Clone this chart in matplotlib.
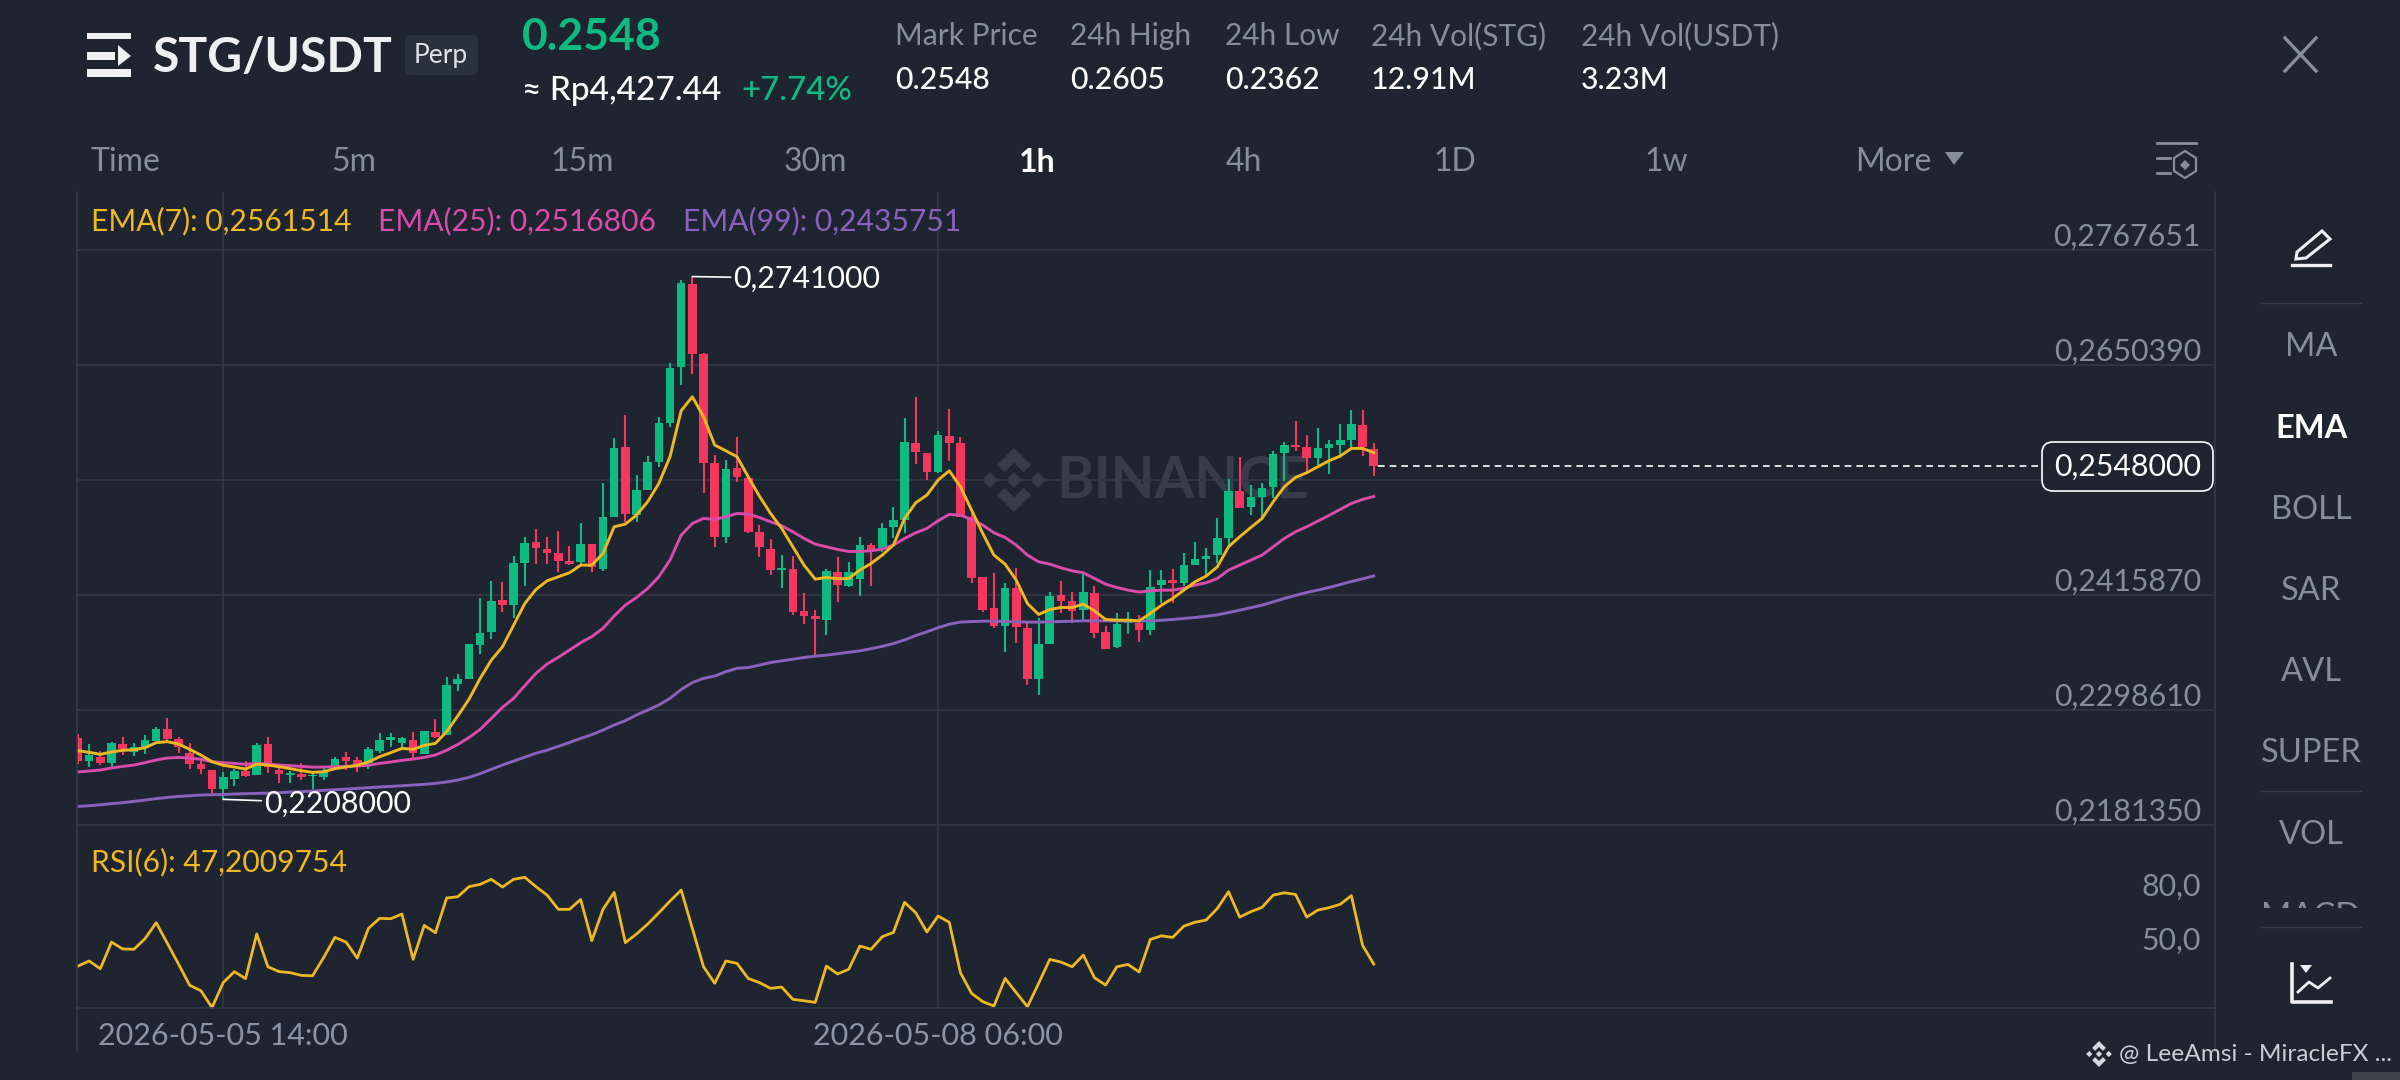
import matplotlib
matplotlib.use('Agg')
import matplotlib.pyplot as plt
from matplotlib.patches import Polygon, Rectangle, FancyBboxPatch

plt.rcParams['font.family'] = ['Lato', 'DejaVu Sans']

# prices are in 1/10000 USDT, one candle per hour
opens = [2270.2, 2247.4, 2251.5, 2245.4, 2264.4, 2256.6, 2260.0, 2267.1, 2279.4, 2269.9,
         2254.9, 2244.0, 2237.9, 2218.2, 2229.0, 2237.2, 2232.8, 2264.4, 2237.9, 2233.1,
         2233.8, 2231.8, 2230.4, 2242.0, 2251.5, 2248.1, 2244.7, 2257.6, 2268.5, 2265.1,
         2268.5, 2254.2, 2277.0, 2273.6, 2325.6, 2330.4, 2365.2, 2378.8, 2411.1, 2406.0,
         2449.2, 2470.2, 2463.5, 2458.7, 2451.2, 2450.2, 2468.2, 2442.4, 2496.1, 2567.5,
         2497.8, 2523.3, 2552.2, 2591.3, 2648.4, 2733.4, 2662.0, 2550.5, 2475.7, 2545.4,
         2535.2, 2480.8, 2463.5, 2441.7, 2442.4, 2400.2, 2394.8, 2390.7, 2439.7, 2425.4,
         2432.2, 2466.9, 2463.8, 2485.9, 2492.7, 2571.6, 2560.7, 2541.7, 2578.4, 2571.6,
         2496.1, 2434.2, 2402.9, 2384.6, 2423.0, 2383.2, 2330.9, 2366.2, 2415.9, 2410.4,
         2400.9, 2418.6, 2378.8, 2363.5, 2388.0, 2388.0, 2380.5, 2426.1, 2431.5, 2428.8,
         2446.5, 2453.3, 2456.7, 2474.3, 2522.3, 2506.3, 2515.8, 2526.0, 2560.7, 2569.2,
         2566.8, 2555.6, 2565.8, 2569.5, 2574.3, 2589.6, 2565.5]
highs = [2274.6, 2264.4, 2257.6, 2266.8, 2271.2, 2265.8, 2273.3, 2281.4, 2290.6, 2271.9,
         2265.1, 2249.8, 2237.9, 2235.9, 2238.6, 2247.4, 2265.1, 2271.9, 2241.3, 2237.2,
         2245.4, 2237.2, 2239.6, 2251.5, 2256.6, 2250.8, 2261.0, 2275.3, 2275.3, 2271.2,
         2276.7, 2278.0, 2289.6, 2332.4, 2335.8, 2366.4, 2413.1, 2430.8, 2429.8, 2456.0,
         2475.0, 2483.2, 2475.7, 2481.8, 2466.2, 2489.3, 2468.2, 2530.1, 2576.0, 2599.8,
         2538.6, 2558.3, 2597.4, 2652.5, 2737.5, 2741.0, 2663.4, 2559.0, 2553.9, 2577.7,
         2536.9, 2487.6, 2473.0, 2457.0, 2456.0, 2417.9, 2400.9, 2442.4, 2455.3, 2450.2,
         2475.0, 2469.6, 2489.3, 2505.6, 2596.7, 2617.8, 2561.4, 2583.8, 2605.6, 2577.7,
         2499.5, 2434.9, 2438.3, 2428.1, 2443.4, 2387.3, 2392.4, 2419.6, 2430.8, 2419.3,
         2438.3, 2425.4, 2384.6, 2397.5, 2399.2, 2395.5, 2441.7, 2441.7, 2442.4, 2458.7,
         2470.6, 2463.8, 2494.4, 2534.2, 2557.3, 2528.4, 2530.1, 2563.4, 2572.6, 2594.0,
         2579.4, 2586.2, 2574.3, 2590.6, 2604.9, 2604.9, 2571.6]
lows = [2244.0, 2241.3, 2242.7, 2241.3, 2253.2, 2252.2, 2254.2, 2267.1, 2265.1, 2255.6,
        2238.6, 2233.8, 2213.4, 2208.0, 2221.6, 2230.4, 2232.8, 2235.2, 2224.3, 2224.3,
        2227.7, 2218.5, 2227.7, 2239.6, 2237.9, 2236.2, 2238.6, 2254.9, 2261.7, 2258.3,
        2249.8, 2254.2, 2270.2, 2273.6, 2318.8, 2330.4, 2356.7, 2371.0, 2399.2, 2392.4,
        2425.4, 2447.8, 2447.8, 2440.0, 2446.8, 2446.8, 2440.0, 2441.0, 2495.4, 2491.0,
        2491.0, 2523.3, 2546.4, 2587.9, 2630.4, 2641.6, 2520.6, 2465.5, 2468.9, 2531.8,
        2479.1, 2455.3, 2436.6, 2423.0, 2395.8, 2386.6, 2354.0, 2375.4, 2409.4, 2424.7,
        2415.2, 2425.4, 2460.4, 2474.0, 2479.1, 2549.8, 2533.5, 2541.0, 2553.2, 2495.4,
        2428.8, 2399.2, 2382.2, 2358.4, 2366.9, 2324.4, 2314.2, 2366.2, 2397.5, 2388.0,
        2390.7, 2372.0, 2361.8, 2362.8, 2376.4, 2368.6, 2375.4, 2407.7, 2407.7, 2425.4,
        2446.5, 2436.6, 2448.5, 2465.5, 2504.6, 2497.8, 2494.4, 2514.8, 2532.8, 2563.4,
        2542.0, 2548.8, 2539.6, 2555.6, 2566.8, 2558.0, 2537.6]
closes = [2247.4, 2253.2, 2245.4, 2265.1, 2259.0, 2261.7, 2268.5, 2279.4, 2269.2, 2261.0,
          2244.0, 2238.6, 2218.2, 2230.4, 2236.5, 2231.8, 2263.7, 2240.6, 2233.8, 2235.2,
          2230.4, 2232.8, 2235.9, 2249.5, 2247.4, 2241.3, 2259.0, 2268.5, 2271.2, 2270.5,
          2254.9, 2278.0, 2271.9, 2324.6, 2331.0, 2366.4, 2377.1, 2410.4, 2406.0, 2449.2,
          2468.9, 2464.1, 2458.7, 2450.5, 2447.8, 2468.2, 2445.1, 2496.1, 2565.8, 2498.8,
          2523.3, 2552.2, 2592.0, 2647.4, 2734.8, 2662.0, 2551.2, 2475.0, 2545.0, 2536.9,
          2480.8, 2465.5, 2441.7, 2443.4, 2399.2, 2394.8, 2392.1, 2441.0, 2426.7, 2440.0,
          2467.2, 2461.4, 2484.2, 2492.7, 2572.6, 2562.0, 2542.0, 2579.1, 2571.6, 2496.1,
          2433.2, 2400.9, 2384.6, 2423.3, 2383.9, 2330.9, 2366.2, 2415.2, 2410.4, 2400.2,
          2419.6, 2377.8, 2361.8, 2386.6, 2390.7, 2380.5, 2424.0, 2431.5, 2428.8, 2446.8,
          2452.6, 2456.0, 2474.3, 2522.6, 2504.6, 2515.8, 2525.3, 2560.0, 2568.9, 2566.8,
          2555.6, 2565.8, 2570.2, 2574.3, 2590.6, 2567.5, 2547.8]

ema7 = [2257.6, 2255.9, 2253.9, 2256.3, 2258.0, 2258.6, 2260.7, 2265.8, 2266.8, 2264.4,
        2259.0, 2253.2, 2246.4, 2242.7, 2241.0, 2238.9, 2244.0, 2243.0, 2241.3, 2239.3,
        2237.2, 2235.5, 2236.2, 2239.3, 2241.0, 2242.7, 2246.1, 2251.5, 2255.6, 2260.0,
        2259.0, 2263.0, 2265.1, 2277.0, 2293.0, 2310.0, 2331.2, 2349.9, 2363.5, 2385.6,
        2407.7, 2422.0, 2430.8, 2434.9, 2439.0, 2446.8, 2446.8, 2458.7, 2485.9, 2488.6,
        2497.8, 2511.4, 2530.1, 2557.3, 2604.2, 2618.5, 2598.1, 2569.2, 2563.4, 2557.3,
        2536.9, 2517.2, 2499.5, 2484.2, 2465.5, 2446.8, 2432.5, 2434.2, 2432.9, 2433.2,
        2441.7, 2448.5, 2457.0, 2467.2, 2494.4, 2510.4, 2518.2, 2533.5, 2543.0, 2526.7,
        2502.9, 2479.1, 2457.0, 2447.8, 2431.5, 2407.7, 2396.5, 2401.6, 2403.6, 2403.6,
        2407.0, 2400.2, 2391.4, 2390.7, 2390.7, 2390.0, 2397.5, 2406.0, 2412.8, 2421.3,
        2429.8, 2435.6, 2445.1, 2465.5, 2475.7, 2485.2, 2494.4, 2511.4, 2526.7, 2536.2,
        2541.0, 2547.1, 2553.2, 2558.0, 2565.8, 2565.8, 2561.4]
ema25 = [2235.9, 2236.9, 2237.9, 2240.0, 2241.6, 2243.0, 2245.4, 2248.1, 2250.1, 2250.8,
         2250.1, 2248.8, 2246.4, 2245.4, 2244.7, 2243.7, 2244.7, 2244.0, 2243.0, 2242.3,
         2241.6, 2240.9, 2240.9, 2241.3, 2241.6, 2242.0, 2242.7, 2244.7, 2246.1, 2247.8,
         2249.1, 2250.8, 2253.2, 2258.0, 2264.0, 2271.0, 2279.3, 2290.5, 2301.8, 2311.0,
         2323.9, 2336.5, 2346.0, 2352.8, 2360.2, 2367.7, 2373.9, 2382.4, 2395.0, 2406.0,
         2413.8, 2423.0, 2434.9, 2451.9, 2477.4, 2489.3, 2494.4, 2493.4, 2496.1, 2499.5,
         2498.8, 2495.4, 2491.0, 2486.9, 2480.8, 2474.0, 2468.2, 2465.5, 2462.8, 2460.7,
         2460.7, 2461.4, 2463.1, 2467.2, 2474.0, 2479.8, 2484.2, 2492.0, 2498.5, 2497.8,
         2493.4, 2487.6, 2479.8, 2475.0, 2467.2, 2457.0, 2450.2, 2447.8, 2444.1, 2441.0,
         2439.0, 2433.2, 2427.4, 2424.0, 2421.3, 2419.3, 2420.6, 2421.3, 2421.3, 2423.3,
         2426.4, 2428.8, 2433.2, 2441.7, 2446.8, 2451.9, 2457.0, 2465.5, 2474.0, 2480.8,
         2485.9, 2491.7, 2497.5, 2503.6, 2509.7, 2513.8, 2516.8]
ema99 = [2200.8, 2201.5, 2202.5, 2203.6, 2204.6, 2205.9, 2207.3, 2208.7, 2210.0, 2211.0,
         2211.7, 2212.4, 2212.7, 2213.0, 2213.4, 2213.8, 2214.1, 2214.4, 2214.8, 2215.5,
         2215.8, 2216.5, 2217.2, 2217.8, 2218.5, 2219.2, 2219.9, 2220.6, 2221.2, 2221.9,
         2222.6, 2223.3, 2224.3, 2225.7, 2227.7, 2230.4, 2234.2, 2238.6, 2243.0, 2247.0,
         2251.0, 2255.0, 2258.2, 2262.0, 2266.0, 2270.1, 2274.0, 2278.6, 2283.8, 2288.2,
         2294.0, 2299.0, 2304.2, 2311.0, 2320.1, 2327.0, 2331.4, 2333.7, 2338.2, 2341.6,
         2342.4, 2344.8, 2347.5, 2349.2, 2350.9, 2352.6, 2354.0, 2355.0, 2356.5, 2358.0,
         2359.4, 2361.6, 2364.0, 2366.9, 2370.5, 2375.0, 2378.8, 2383.0, 2386.6, 2388.7,
         2389.3, 2389.7, 2389.6, 2389.3, 2389.0, 2388.7, 2388.7, 2389.0, 2389.3, 2389.6,
         2390.0, 2390.0, 2390.0, 2390.0, 2389.7, 2389.8, 2390.0, 2390.6, 2391.4, 2392.4,
         2393.4, 2394.7, 2396.1, 2398.4, 2400.9, 2403.4, 2406.0, 2409.3, 2412.8, 2415.9,
         2418.9, 2421.4, 2424.0, 2427.0, 2430.1, 2432.8, 2435.8]
rsi6 = [46.1, 48.9, 44.6, 59.4, 55.6, 55.4, 61.3, 70.2, 58.7, 47.2,
        35.4, 32.4, 23.0, 36.9, 43.0, 39.1, 63.9, 45.7, 43.0, 42.4,
        40.9, 40.7, 50.9, 62.0, 59.4, 50.5, 67.0, 72.6, 72.4, 75.0,
        49.8, 68.7, 64.6, 83.9, 84.6, 90.2, 91.5, 94.3, 90.0, 94.3,
        95.4, 90.2, 85.5, 77.6, 77.6, 83.1, 60.2, 77.6, 87.0, 59.1,
        63.9, 69.4, 75.7, 82.2, 88.3, 67.0, 45.7, 36.5, 48.9, 47.6,
        39.2, 36.9, 33.7, 34.4, 27.6, 26.8, 25.9, 46.1, 41.7, 44.3,
        57.2, 55.4, 62.4, 64.8, 81.5, 75.7, 65.0, 73.9, 70.4, 42.4,
        30.9, 26.3, 23.9, 39.2, 31.3, 23.5, 36.5, 49.8, 48.3, 45.7,
        52.2, 39.6, 35.5, 45.7, 47.0, 42.8, 60.9, 62.9, 62.0, 68.3,
        70.4, 71.7, 78.1, 87.4, 73.3, 76.3, 78.7, 85.5, 86.8, 85.9,
        73.3, 77.2, 78.5, 80.4, 85.2, 57.6, 47.2]

price_ticks = [0.2767651, 0.2650390, 0.2533130, 0.2415870, 0.2298610, 0.2181350]
price_labels = ['0,2767651', '0,2650390', '', '0,2415870', '0,2298610', '0,2181350']
rsi_ticks = [80, 50]
rsi_labels = ['80,0', '50,0']
date_ticks = [13, 77]
date_labels = ['2026-05-05 14:00', '2026-05-08 06:00']
last_price = 0.2548
high_idx, low_idx = 55, 13

nav_items = [('Time', 125), ('5m', 354), ('15m', 582), ('30m', 815), ('1h', 1037),
             ('4h', 1244), ('1D', 1455), ('1w', 1666), ('More', 1893)]
stat_items = [('Mark Price', '0.2548', 895), ('24h High', '0.2605', 1070), ('24h Low', '0.2362', 1225),
              ('24h Vol(STG)', '12.91M', 1371), ('24h Vol(USDT)', '3.23M', 1581)]
side_items = [('MA', 347), ('EMA', 428), ('BOLL', 510), ('SAR', 591), ('AVL', 672), ('SUPER', 753), ('VOL', 835)]

W, H = 2400, 1080
BG = '#1e2530'
GRID = '#343b47'
GREY = '#868e9b'
UP = '#0dbb82'
DOWN = '#f5365f'
YEL = '#eeb822'
PINK = '#d84cab'
PURP = '#8a62bd'


def px_axes(x0, y0, x1, y1, z):
    return fig.add_axes([x0 / W, 1 - y1 / H, (x1 - x0) / W, (y1 - y0) / H], zorder=z)


def binance_logo(ax, cx, cy, r, color):
    diamonds = [(0, 0), (-0.75, 0), (0.75, 0)]
    for dx, dy in diamonds:
        pts = [(0, -0.24), (0.24, 0), (0, 0.24), (-0.24, 0)]
        ax.add_patch(Polygon([(cx + (dx + a) * r, cy + (dy + b) * r) for a, b in pts], fc=color, ec='none'))
    chev = [(-0.53, -0.47), (0, -1), (0.53, -0.47), (0.3, -0.24), (0, -0.54), (-0.3, -0.24)]
    for s in (1, -1):
        ax.add_patch(Polygon([(cx + a * r, cy + s * b * r) for a, b in chev], fc=color, ec='none'))


fig = plt.figure(figsize=(24, 10.8), dpi=100, facecolor=BG)

# watermark goes under the chart
under = px_axes(0, 0, W, H, 0)
under.set_xlim(0, W)
under.set_ylim(H, 0)
under.axis('off')
binance_logo(under, 1014, 480, 32, '#363d49')
under.text(1056, 481, 'BINANCE', color='#363d49', fontsize=41, fontweight='bold', va='center', ha='left')

# candles
xlim = ((77 - 78) / 11.17, (2215 - 78) / 11.17)
ax = px_axes(77, 192, 2215, 825.5, 1)
ax.patch.set_alpha(0)
ax.set_xlim(xlim)
ax.set_ylim(0.218135, 0.28272)
for s in ax.spines.values():
    s.set_visible(False)
ax.set_yticks(price_ticks)
ax.set_xticks(date_ticks)
ax.tick_params(length=0, labelleft=False, labelbottom=False)
ax.grid(True, color=GRID, lw=1.1)
ax.set_axisbelow(True)

idx = list(range(len(opens)))
colors = [UP if c >= o else DOWN for o, c in zip(opens, closes)]
ax.vlines(idx, [v / 1e4 for v in lows], [v / 1e4 for v in highs], colors=colors, lw=1.5, zorder=2)
ax.bar(idx, [abs(c - o) / 1e4 for o, c in zip(opens, closes)], bottom=[min(o, c) / 1e4 for o, c in zip(opens, closes)],
       width=0.77, color=colors, zorder=3)
ax.plot(idx, [v / 1e4 for v in ema99], color=PURP, lw=2.1, zorder=4)
ax.plot(idx, [v / 1e4 for v in ema25], color=PINK, lw=2.1, zorder=4)
ax.plot(idx, [v / 1e4 for v in ema7], color=YEL, lw=2.1, zorder=5)

for val, lab in zip(price_ticks, price_labels):
    ax.annotate(lab, xy=(1, val), xycoords=ax.get_yaxis_transform(), xytext=(-14, 14), textcoords='offset pixels',
                color=GREY, fontsize=21.8, ha='right', va='center')

ax.plot([idx[-1] + 0.4, xlim[1] - 15.3], [last_price, last_price], color='white', lw=1.2, ls=(0, (4, 3)), zorder=4)

# high / low markers
ax.annotate('0,2741000', xy=(high_idx, highs[high_idx] / 1e4), xytext=(41, -2), textcoords='offset pixels',
            color='white', fontsize=21.8, va='center', ha='left', zorder=6,
            arrowprops=dict(arrowstyle='-', color='white', lw=1.2, shrinkA=0, shrinkB=0))
ax.annotate('0,2208000', xy=(low_idx, lows[low_idx] / 1e4), xytext=(41, -4), textcoords='offset pixels',
            color='white', fontsize=21.8, va='center', ha='left', zorder=6,
            arrowprops=dict(arrowstyle='-', color='white', lw=1.2, shrinkA=0, shrinkB=0))

# rsi panel
rax = px_axes(77, 825.5, 2215, 1008, 1)
rax.patch.set_alpha(0)
rax.set_xlim(xlim)
rax.set_ylim(22.78, 124.2)
for name, s in rax.spines.items():
    s.set_visible(name == 'bottom')
    s.set_color(GRID)
    s.set_linewidth(1.1)
rax.set_yticks([])
rax.set_xticks(date_ticks)
rax.set_xticklabels(date_labels, color='#8b93a5', fontsize=22)
rax.tick_params(length=0, pad=10)
rax.grid(True, axis='x', color=GRID, lw=1.1)
rax.plot(idx, rsi6, color=YEL, lw=2.0, clip_on=False)
for val, lab in zip(rsi_ticks, rsi_labels):
    rax.annotate(lab, xy=(1, val), xycoords=rax.get_yaxis_transform(), xytext=(-14, 18), textcoords='offset pixels',
                 color=GREY, fontsize=21.8, ha='right', va='center')

# everything else is app chrome on top
top = px_axes(0, 0, W, H, 5)
top.set_xlim(0, W)
top.set_ylim(H, 0)
top.axis('off')

top.plot([77, 77], [192, 1052], color=GRID, lw=1.1)
top.plot([2215, 2215], [192, 1052], color=GRID, lw=1.1)

# header
for y0, y1, x1 in [(33, 39, 131), (52, 60, 115), (69, 77, 131)]:
    top.add_patch(Rectangle((87, y0), x1 - 87, y1 - y0, fc='#eef0f4', ec='none'))
top.add_patch(Polygon([(118, 45), (131, 56), (118, 66)], fc='#eef0f4', ec='none'))
top.text(153, 58, 'STG/USDT', color='#eef0f4', fontsize=34.6, fontweight='bold', va='center')
top.add_patch(FancyBboxPatch((405, 35), 73, 40, boxstyle='round,pad=0,rounding_size=6', fc='#2a323e', ec='none'))
top.text(441, 56, 'Perp', color='#dfe2e8', fontsize=19, ha='center', va='center')
top.text(522, 37, '0.2548', color=UP, fontsize=32, fontweight='bold', va='center')
top.text(522, 91, '≈ Rp4,427.44', color='white', fontsize=24, fontweight='medium', va='center')
top.text(741, 91, '+7.74%', color=UP, fontsize=23.7, fontweight='medium', va='center')

for lab, val, x in stat_items:
    top.text(x, 36, lab, color=GREY, fontsize=21.5, va='center')
    top.text(x, 80, val, color='white', fontsize=21.7, fontweight='medium', va='center')

top.plot([2285, 2316], [38, 71], color=GREY, lw=2.4)
top.plot([2316, 2285], [38, 71], color=GREY, lw=2.4)

# interval row
for lab, x in nav_items:
    active = lab == '1h'
    top.text(x, 162, lab, color='white' if active else GREY, fontsize=23,
             fontweight='bold' if active else 'normal', ha='center', va='center')
top.add_patch(Polygon([(1945, 152), (1964, 152), (1954, 165)], fc=GREY, ec='none'))
top.plot([2157, 2196], [143, 143], color=GREY, lw=2)
top.plot([2157, 2170], [158, 158], color=GREY, lw=2)
top.plot([2157, 2170], [173, 173], color=GREY, lw=2)
top.add_patch(Polygon([(2185, 151), (2196, 158), (2196, 171), (2185, 178), (2174, 171), (2174, 158)],
                      fc='none', ec=GREY, lw=1.6))
top.add_patch(Polygon([(2185, 160), (2190, 165), (2185, 170), (2180, 165)], fc=GREY, ec='none'))

# legends
top.text(91, 221, 'EMA(7): 0,2561514', color=YEL, fontsize=21.6, va='center')
top.text(378, 221, 'EMA(25): 0,2516806', color=PINK, fontsize=21.6, va='center')
top.text(683, 221, 'EMA(99): 0,2435751', color=PURP, fontsize=21.6, va='center')
top.text(91, 862, 'RSI(6): 47,2009754', color=YEL, fontsize=21.6, va='center')

# last price box
top.add_patch(FancyBboxPatch((2042, 442), 171, 49, boxstyle='round,pad=0,rounding_size=11', fc=BG, ec='white', lw=1.2))
top.text(2201, 467, '0,2548000', color='white', fontsize=21.8, ha='right', va='center')

# side menu
for lab, y in side_items:
    top.text(2311, y, lab, color='white' if lab == 'EMA' else GREY, fontsize=23.5,
             fontweight='bold' if lab == 'EMA' else 'normal', ha='center', va='center')
macd = top.text(2311, 917, 'MACD', color=GREY, fontsize=23.5, ha='center', va='center')
macd.set_clip_on(True)
macd.set_clip_path(Rectangle((2250, 890), 120, 18, transform=top.transData))
for y in [302.5, 791, 927]:
    top.plot([2261, 2361], [y, y], color=GRID, lw=1)

# pencil and chart icons
top.add_patch(Polygon([(2297, 252), (2322, 231), (2330, 239), (2306, 258), (2296, 259)], fc='none', ec='#eef0f4', lw=2.2))
top.plot([2292, 2330], [265, 265], color='#eef0f4', lw=2.4)
top.plot([2292, 2292, 2331], [964, 1002, 1002], color='#eef0f4', lw=2.6)
top.plot([2298, 2309, 2318, 2330], [992, 982, 988, 978], color='#eef0f4', lw=2)
top.add_patch(Polygon([(2300, 965), (2312, 965), (2306, 973)], fc='#eef0f4', ec='none'))

# footer
binance_logo(top, 2099, 1054, 13, '#d5d8de')
top.text(2119, 1055, '@ LeeAmsi - MiracleFX ...', color='#c9cdd4', fontsize=17.6, va='center')
top.add_patch(Rectangle((2352, 1072), 48, 8, fc='#3f444c', ec='none'))

fig.savefig('out.png', dpi=100, facecolor=BG)
